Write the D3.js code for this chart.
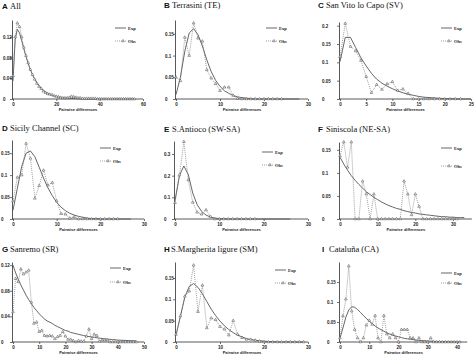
<!DOCTYPE html>
<html><head><meta charset="utf-8">
<script src="https://cdn.jsdelivr.net/npm/d3@7"></script>
<style>body{margin:0;background:#fff}svg{display:block}</style>
</head><body>
<script>
// ---- data ----
const letters = ["A","B","C","D","E","F","G","H","I"];
const titles = ["All","Terrasini (TE)","San Vito lo Capo (SV)","Sicily Channel (SC)","S.Antioco (SW-SA)","Siniscola (NE-SA)","Sanremo (SR)","S.Margherita ligure (SM)","Cataluña (CA)"];
const xLabel = "Pairwise differences";
const legendLabels = ["Exp","Obs"];

const obsA = [0.045,0.12,0.147,0.14,0.12,0.1,0.084,0.07,0.057,0.047,0.038,0.03,0.024,0.02,0.015,0.012,0.01,0.009,0.008,0.006,0.005,0.004,0.003,0.002,0.002,0.002,0.003,0.005,0.004,0.003,0.002,0.002,0.001,0.001,0.001,0.001,0.001,0.001,0.001,0,0,0,0,0,0,0,0,0,0,0,0,0,0,0,0,0,0];
const expA = [0.035,0.115,0.135,0.128,0.113,0.097,0.082,0.069,0.057,0.047,0.039,0.032,0.026,0.021,0.017,0.014,0.011,0.009,0.007,0.006,0.005,0.004,0.003,0.0025,0.002,0.0015,0.001,0.001,0.001,0.0008,0.0006,0.0005,0.0004,0.0003,0.0002,0.0002,0.0001,0.0001,0,0,0,0,0,0,0,0,0,0,0,0,0,0,0,0,0,0,0];
const obsB = [0.05,0.042,0.142,0.1,0.175,0.14,0.133,0.067,0.048,0.035,0.019,0.027,0.027,0.008,0.001,0,0,0,0,0,0,0,0,0,0];
const expB = [0.01,0.05,0.11,0.152,0.162,0.148,0.122,0.09,0.063,0.043,0.029,0.019,0.013,0.008,0.005,0.003,0.002,0.001,0,0,0,0,0,0,0,0,0,0,0];
const obsC = [0.115,0.206,0.143,0.131,0.105,0.061,0.017,0.039,0.026,0.041,0.047,0.023,0.027,0.015,0,0,0,0,0,0,0,0,0,0];
const expC = [0.102,0.168,0.168,0.14,0.112,0.09,0.07,0.054,0.043,0.035,0.028,0.022,0.017,0.013,0.01,0.007,0.005,0.004,0.003,0.002,0.001,0.001,0.0005,0,0,0];
const obsD = [0.041,0.095,0.1,0.172,0.138,0.047,0.076,0.111,0.077,0.083,0.041,0.012,0.011,0.002,0.005,0,0,0,0,0,0,0,0,0,0];
const expD = [0.02,0.07,0.12,0.15,0.155,0.142,0.118,0.093,0.071,0.053,0.038,0.027,0.019,0.013,0.009,0.006,0.004,0.002,0.001,0.001,0,0,0,0,0,0,0,0];
const obsE = [0.075,0.203,0.357,0.18,0.077,0.031,0.022,0.042,0.011,0,0,0,0,0,0,0,0,0,0];
const expE = [0.085,0.2,0.245,0.205,0.12,0.066,0.035,0.018,0.009,0.004,0.002,0.001,0,0,0,0,0,0,0,0,0,0,0,0,0,0,0];
const obsF = [0.137,0.167,0.112,0.167,0,0,0.082,0.054,0,0.054,0,0,0,0,0,0,0,0.082,0.054,0.009,0.054,0.027,0,0,0,0,0,0,0,0,0,0];
const expF = [0.134,0.119,0.106,0.094,0.084,0.075,0.067,0.059,0.053,0.047,0.042,0.037,0.033,0.029,0.026,0.023,0.021,0.018,0.016,0.014,0.013,0.011,0.01,0.009,0.008,0.007,0.006,0.005,0.005,0.004,0.004,0.003,0.003,0.003];
const obsG = [0.047,0.099,0.094,0.114,0.106,0.109,0.112,0.062,0.029,0.031,0.016,0.018,0.01,0.009,0.01,0.009,0.005,0.008,0.01,0.016,0.009,0.004,0.004,0.002,0,0.002,0.001,0.001,0.009,0.02,0.005,0.012,0.01,0.001,0.003,0.003,0.003,0,0,0,0,0,0,0,0,0,0,0];
const expG = [0.12,0.108,0.098,0.089,0.081,0.073,0.066,0.06,0.054,0.049,0.044,0.04,0.036,0.033,0.031,0.029,0.026,0.024,0.022,0.02,0.018,0.017,0.015,0.014,0.013,0.012,0.011,0.01,0.009,0.0085,0.008,0.0073,0.0067,0.006,0.0055,0.005,0.0046,0.0042,0.0038,0.0035,0.003,0.0028,0.0026,0.0024,0.0022,0.002,0.0019,0.0018];
const obsH = [0.018,0.061,0.107,0.119,0.18,0.071,0.133,0.033,0.056,0.052,0.036,0.03,0.016,0.05,0.018,0.01,0.006,0.006,0.004,0.002,0,0,0,0,0,0,0,0,0,0];
const expH = [0.015,0.06,0.105,0.13,0.137,0.128,0.113,0.095,0.077,0.062,0.049,0.038,0.029,0.022,0.016,0.012,0.008,0.006,0.004,0.003,0.002,0.001,0.001,0,0,0,0,0,0,0];
const obsI = [0.01,0.065,0.107,0.19,0.077,0.031,0.01,0,0.01,0.042,0.054,0.044,0.066,0.01,0,0.066,0.02,0.01,0.02,0.01,0,0.031,0.031,0.031,0.01,0.01,0,0.01,0,0,0,0.01,0,0,0,0,0,0,0,0,0,0];
const expI = [0.01,0.035,0.062,0.08,0.088,0.087,0.081,0.074,0.066,0.059,0.052,0.046,0.04,0.035,0.031,0.027,0.023,0.02,0.017,0.015,0.013,0.011,0.009,0.008,0.007,0.006,0.005,0.004,0.0035,0.003,0.0025,0.002,0.0017,0.0014,0.0012,0.001,0.0008,0.0006,0.0005,0.0004,0.0003,0.0002];

const obsSeries = [obsA,obsB,obsC,obsD,obsE,obsF,obsG,obsH,obsI];
const expSeries = [expA,expB,expC,expD,expE,expF,expG,expH,expI];

const yTicks = [[0,0.04,0.08,0.12],[0,0.05,0.1,0.15],[0,0.05,0.1,0.15,0.2],[0,0.05,0.1,0.15],[0,0.1,0.2,0.3],[0,0.05,0.1,0.15],[0,0.04,0.08,0.12],[0,0.05,0.1,0.15],[0,0.05,0.1,0.15]];
const xTicks = [[0,20,40,60],[0,10,20,30],[0,5,10,15,20,25],[0,10,20,30],[0,10,20,30],[0,10,20,30],[0,10,20,30,40,50],[0,10,20,30],[0,10,20,30,40]];

// ---- layout (pixels / domains) ----
const layout = [
 {left:13,right:143,xmax:60,axisMax:60,base:99,top:20,ymax:0.153,lab:3,ty:9,lx:2,tx:10,lgx:115,lgy1:28,lgy2:41},
 {left:176,right:308,xmax:30,axisMax:30,base:99,top:20,ymax:0.182,lab:165,ty:8,lx:164,tx:172,lgx:266,lgy1:28,lgy2:41},
 {left:340,right:471,xmax:25,axisMax:25,base:99,top:22,ymax:0.21,lab:322,ty:8,lx:318,tx:326,lgx:441,lgy1:28,lgy2:41},
 {left:13,right:144,xmax:30,axisMax:30,base:219,top:140,ymax:0.18,lab:1,ty:131,lx:2,tx:10,lgx:100,lgy1:148,lgy2:161},
 {left:175,right:308,xmax:30,axisMax:30,base:219,top:141,ymax:0.36,lab:164,ty:132,lx:164,tx:172,lgx:262,lgy1:152,lgy2:165},
 {left:340,right:453,xmax:30,axisMax:35,base:219,top:142,ymax:0.167,lab:322,ty:132,lx:318,tx:326,lgx:441,lgy1:148,lgy2:166},
 {left:13,right:144,xmax:50,axisMax:50,base:342,top:262,ymax:0.125,lab:1,ty:252,lx:2,tx:10,lgx:110,lgy1:268,lgy2:282},
 {left:176,right:308,xmax:30,axisMax:30,base:342,top:262,ymax:0.1875,lab:165,ty:252,lx:164,tx:171,lgx:275,lgy1:270,lgy2:283},
 {left:340,right:457,xmax:40,axisMax:43.5,base:342,top:262,ymax:0.2,lab:327,ty:252,lx:322,tx:329,lgx:441,lgy1:273,lgy2:283}
];

const svg = d3.select("body").append("svg").attr("width",474).attr("height",354);
const tri = d3.symbol().type(d3.symbolTriangle).size(3.2);

layout.forEach((L,i)=>{
  const g = svg.append("g");
  const x = d3.scaleLinear().domain([0,L.xmax]).range([L.left,L.right]);
  const y = d3.scaleLinear().domain([0,L.ymax]).range([L.base,L.top]);

  g.append("text").attr("x",L.lx).attr("y",L.ty).text(letters[i])
    .attr("font-family","Liberation Sans, Arial, sans-serif").attr("font-weight","bold").attr("font-size",8).attr("fill","#111");
  g.append("text").attr("x",L.tx).attr("y",L.ty).text(titles[i])
    .attr("font-family","Liberation Serif, Times New Roman, serif").attr("font-size",8.5).attr("fill","#111");

  const ya = g.append("g").attr("transform",`translate(${L.left-1},0)`)
    .call(d3.axisLeft(y).tickValues(yTicks[i]).tickSize(2).tickSizeOuter(0).tickFormat(d=>String(d)));
  ya.select(".domain").attr("stroke","#111").attr("stroke-width",0.7);
  ya.selectAll(".tick line").attr("stroke","#111").attr("stroke-width",0.6);
  ya.selectAll(".tick text").attr("text-anchor","start").attr("x",L.lab-(L.left-1))
    .attr("font-family","Liberation Sans, Arial, sans-serif").attr("font-weight","bold").attr("font-size",4.5).attr("fill","#222");

  const xa = g.append("g").attr("transform",`translate(0,${L.base})`)
    .call(d3.axisBottom(x).tickValues(xTicks[i]).tickSize(2).tickSizeOuter(0).tickFormat(d3.format("d")));
  xa.select(".domain").remove();
  xa.selectAll(".tick line").attr("stroke","#111").attr("stroke-width",0.6);
  xa.selectAll(".tick text").attr("y",4)
    .attr("font-family","Liberation Sans, Arial, sans-serif").attr("font-weight","bold").attr("font-size",4.5).attr("fill","#222");
  g.append("line").attr("x1",L.left-1).attr("x2",x(L.axisMax)).attr("y1",L.base).attr("y2",L.base)
    .attr("stroke","#111").attr("stroke-width",0.7);

  g.append("text").attr("x",(L.left+x(L.axisMax))/2).attr("y",L.base+12).attr("text-anchor","middle")
    .text(xLabel).attr("font-family","Liberation Sans, Arial, sans-serif").attr("font-weight","bold").attr("font-size",4).attr("fill","#222");

  const line = d3.line().x((d,j)=>x(j)).y(d=>y(d));
  g.append("path").datum(expSeries[i]).attr("d",line).attr("fill","none").attr("stroke","#555").attr("stroke-width",0.9);
  g.append("path").datum(obsSeries[i]).attr("d",line).attr("fill","none").attr("stroke","#777").attr("stroke-width",0.7).attr("stroke-dasharray","1,1");
  g.selectAll("path.m").data(obsSeries[i]).join("path").attr("class","m")
    .attr("d",tri).attr("transform",(d,j)=>`translate(${x(j)},${y(d)})`)
    .attr("fill","#fff").attr("stroke","#444").attr("stroke-width",0.5);

  g.append("line").attr("x1",L.lgx).attr("x2",L.lgx+11).attr("y1",L.lgy1).attr("y2",L.lgy1).attr("stroke","#555").attr("stroke-width",0.9);
  g.append("line").attr("x1",L.lgx).attr("x2",L.lgx+11).attr("y1",L.lgy2).attr("y2",L.lgy2).attr("stroke","#777").attr("stroke-width",0.7).attr("stroke-dasharray","1,1");
  g.append("path").attr("d",tri).attr("transform",`translate(${L.lgx+8},${L.lgy2})`).attr("fill","#fff").attr("stroke","#444").attr("stroke-width",0.5);
  legendLabels.forEach((lab,k)=>{
    g.append("text").attr("x",L.lgx+13).attr("y",(k?L.lgy2:L.lgy1)+1.5).text(lab)
      .attr("font-family","Liberation Serif, Times New Roman, serif").attr("font-weight","bold").attr("font-size",4.5).attr("fill","#222");
  });
});
</script>
</body></html>
